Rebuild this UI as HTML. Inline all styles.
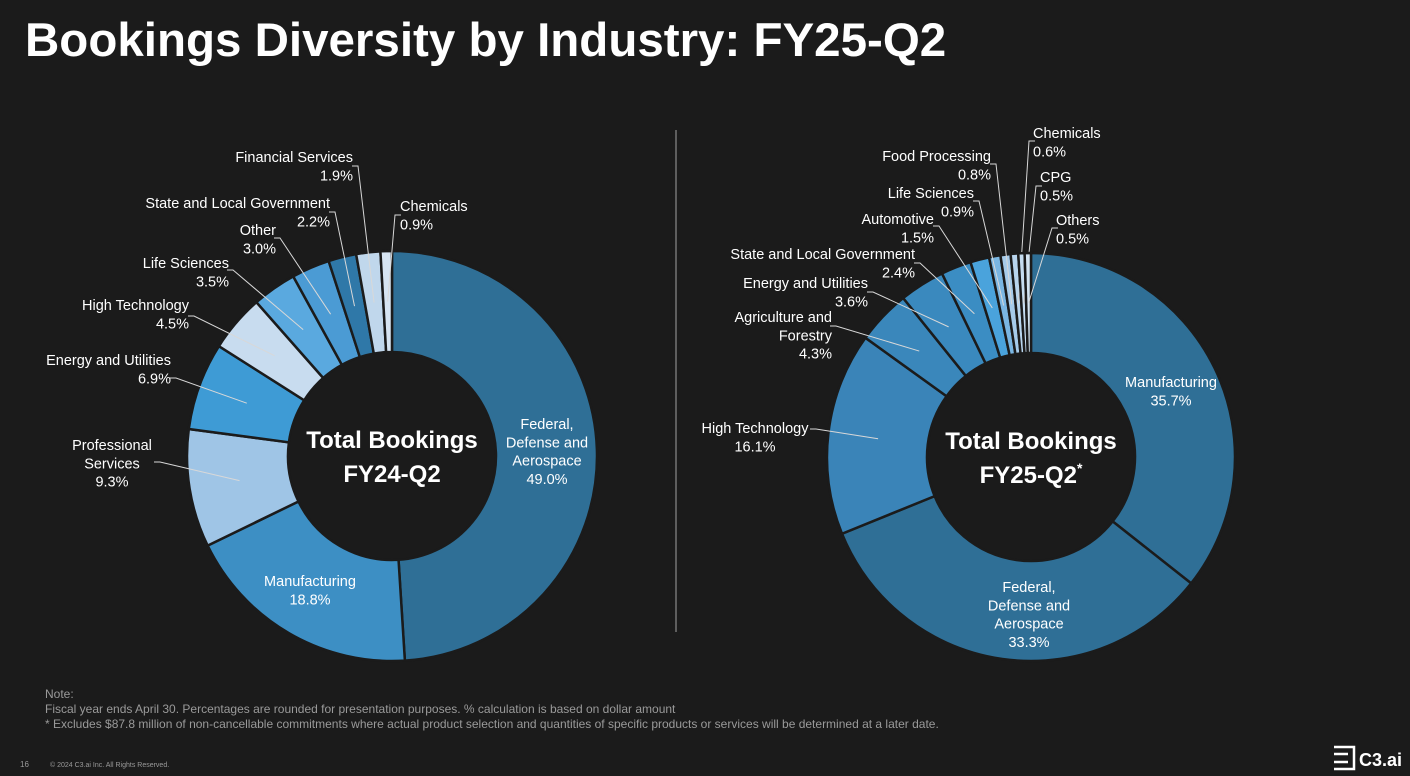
<!DOCTYPE html>
<html><head><meta charset="utf-8"><style>
html,body{margin:0;padding:0;background:#1b1b1b;}
svg{display:block;font-family:"Liberation Sans",Arial,sans-serif;}
</style></head><body>
<svg id="chart" width="1410" height="776" viewBox="0 0 1410 776">
<rect width="1410" height="776" fill="#1b1b1b"/>
<text x="25" y="56" font-size="47.5" font-weight="bold" fill="#fff">Bookings Diversity by Industry: FY25-Q2</text>
<line x1="676" y1="130" x2="676" y2="632" stroke="#8a8a8a" stroke-width="1.2"/>
<g id="left"></g>
<g id="right"></g>
<g fill="#9a9a9a" font-size="12">
<text x="45" y="698">Note:</text>
<text x="45" y="713">Fiscal year ends April 30. Percentages are rounded for presentation purposes. % calculation is based on dollar amount</text>
<text x="45" y="728">* Excludes $87.8 million of non-cancellable commitments where actual product selection and quantities of specific products or services will be determined at a later date.</text>
</g>
<text x="20" y="767" font-size="8" fill="#9a9a9a">16</text>
<text x="50" y="767" font-size="7" fill="#9a9a9a">© 2024 C3.ai Inc. All Rights Reserved.</text>
<g>
<path d="M1334 747 h20 v22 h-20 M1334 754 h14 M1334 762 h14" fill="none" stroke="#fff" stroke-width="2.5"/>
<text x="1359" y="766" font-size="18" font-weight="bold" fill="#fff">C3.ai</text>
</g>
</svg>
<script>
const leftCats=["Federal, Defense and Aerospace","Manufacturing","Professional Services","Energy and Utilities","High Technology","Life Sciences","Other","State and Local Government","Financial Services","Chemicals"];
const leftVals=[49.0,18.8,9.3,6.9,4.5,3.5,3.0,2.2,1.9,0.9];
const rightCats=["Manufacturing","Federal, Defense and Aerospace","High Technology","Agriculture and Forestry","Energy and Utilities","State and Local Government","Automotive","Life Sciences","Food Processing","Chemicals","CPG","Others"];
const rightVals=[35.7,33.3,16.1,4.3,3.6,2.4,1.5,0.9,0.8,0.6,0.5,0.5];

const leftColors=["#2f6f96","#3d8fc4","#9fc5e6","#3e9bd5","#c8dcef","#5aa9df","#4b9bd4","#2f78a8","#c0d7ec","#d6e4f2"];
const rightColors=["#2f6f96","#2f6f96","#3a84b8","#3a87bb","#3a89be","#3b8dc3","#4aa3dc","#7ab6e2","#a6cbea","#b8d5ee","#c5dcf0","#d3e4f3"];
const leftLabels=[
 {l:["Federal,","Defense and","Aerospace","49.0%"],x:547,y:429,a:"middle",inside:true},
 {l:["Manufacturing","18.8%"],x:310,y:586,a:"middle",inside:true},
 {l:["Professional","Services","9.3%"],x:112,y:450,a:"middle",lx:160,ly:462},
 {l:["Energy and Utilities","6.9%"],x:171,y:365,a:"end",lx:176,ly:378},
 {l:["High Technology","4.5%"],x:189,y:310,a:"end",lx:194,ly:316},
 {l:["Life Sciences","3.5%"],x:229,y:268,a:"end",lx:233,ly:270},
 {l:["Other","3.0%"],x:276,y:235,a:"end",lx:280,ly:238},
 {l:["State and Local Government","2.2%"],x:330,y:208,a:"end",lx:335,ly:212},
 {l:["Financial Services","1.9%"],x:353,y:162,a:"end",lx:358,ly:166},
 {l:["Chemicals","0.9%"],x:400,y:211,a:"start",lx:395,ly:215}
];
const rightLabels=[
 {l:["Manufacturing","35.7%"],x:1171,y:387,a:"middle",inside:true},
 {l:["Federal,","Defense and","Aerospace","33.3%"],x:1029,y:592,a:"middle",inside:true},
 {l:["High Technology","16.1%"],x:755,y:433,a:"middle",lx:816,ly:429},
 {l:["Agriculture and","Forestry","4.3%"],x:832,y:322,a:"end",lx:836,ly:326},
 {l:["Energy and Utilities","3.6%"],x:868,y:288,a:"end",lx:873,ly:292},
 {l:["State and Local Government","2.4%"],x:915,y:259,a:"end",lx:920,ly:263},
 {l:["Automotive","1.5%"],x:934,y:224,a:"end",lx:939,ly:226},
 {l:["Life Sciences","0.9%"],x:974,y:198,a:"end",lx:979,ly:201},
 {l:["Food Processing","0.8%"],x:991,y:161,a:"end",lx:996,ly:164},
 {l:["Chemicals","0.6%"],x:1033,y:138,a:"start",lx:1029,ly:141},
 {l:["CPG","0.5%"],x:1040,y:182,a:"start",lx:1036,ly:186},
 {l:["Others","0.5%"],x:1056,y:225,a:"start",lx:1052,ly:228}
];
const NS="http://www.w3.org/2000/svg";
function mk(tag,attrs,parent){const e=document.createElementNS(NS,tag);for(const k in attrs)e.setAttribute(k,attrs[k]);parent.appendChild(e);return e;}
function pt(cx,cy,r,a){return [cx+r*Math.sin(a),cy-r*Math.cos(a)];}
function donut(g,cx,cy,ro,ri,vals,cats,colors,labels,center,sup){
 const total=vals.reduce((s,v)=>s+v,0);
 let a0=0;
 vals.forEach((v,i)=>{
  const a1=a0+v/total*2*Math.PI;
  const [x0,y0]=pt(cx,cy,ro,a0),[x1,y1]=pt(cx,cy,ro,a1),[x2,y2]=pt(cx,cy,ri,a1),[x3,y3]=pt(cx,cy,ri,a0);
  const lg=(a1-a0)>Math.PI?1:0;
  const p=mk("path",{d:`M${x0},${y0}A${ro},${ro} 0 ${lg} 1 ${x1},${y1}L${x2},${y2}A${ri},${ri} 0 ${lg} 0 ${x3},${y3}Z`,fill:colors[i],stroke:"#1b1b1b","stroke-width":2.5},g);
  
  
  const L=labels[i];
  const mid=(a0+a1)/2;
  if(!L.inside){
   const [mx,my]=pt(cx,cy,(ro+ri)/2,mid);
   const ln=mk("polyline",{points:`${L.lx+(L.a==="start"?6:-6)},${L.ly} ${L.lx},${L.ly} ${mx},${my}`,fill:"none",stroke:"#d8d8d8","stroke-width":1},g);
   
   
  }
  const t=mk("text",{x:L.x,y:L.y,"text-anchor":L.a,fill:"#fff","font-size":14.5},g);
  
  
  L.l.forEach((s,k)=>{const ts=mk("tspan",{x:L.x,dy:k?18.3:0},t);ts.textContent=s;});
  a0=a1;
 });
 mk("circle",{cx:cx,cy:cy,r:ri-1,fill:"#1b1b1b"},g);
 const c=mk("text",{x:cx,y:cy-8,"text-anchor":"middle",fill:"#fff","font-size":24,"font-weight":"bold"},g);
 
 
 const t1=mk("tspan",{x:cx,dy:0},c);t1.textContent="Total Bookings";
 const t2=mk("tspan",{x:cx,dy:34},c);t2.textContent=center;
 if(sup){const t3=mk("tspan",{dy:-10,"font-size":14},c);t3.textContent="*";}
}
donut(document.getElementById("left"),392,456,205,104,leftVals,leftCats,leftColors,leftLabels,"FY24-Q2",false);
donut(document.getElementById("right"),1031,457,204,104,rightVals,rightCats,rightColors,rightLabels,"FY25-Q2",true);
</script>
</body></html>
